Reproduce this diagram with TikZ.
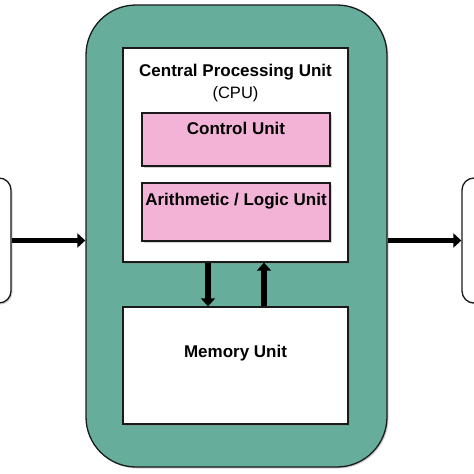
\documentclass[tikz,border=0pt]{standalone}
\usepackage{fontspec}
\setmainfont{Liberation Sans}
\usetikzlibrary{arrows.meta,shadows}
\definecolor{tealfill}{HTML}{66AD9C}
\definecolor{pinkfill}{HTML}{F2B3D6}
\definecolor{edge}{HTML}{1A1A1A}
\tikzset{
  box/.style={draw=edge, line width=1.3pt, inner sep=0pt,
    drop shadow={shadow xshift=1.5pt, shadow yshift=-1.5pt, opacity=0.35}},
  outerbox/.style={box, fill=tealfill, rounded corners=50pt},
  whitebox/.style={box, fill=white},
  pinkbox/.style={box, fill=pinkfill},
  sidebox/.style={box, fill=white, rounded corners=12pt},
  lbl/.style={font=\fontsize{17}{20}\selectfont\bfseries, inner sep=0pt},
  sublbl/.style={font=\fontsize{16.5}{20}\selectfont, inner sep=0pt},
  bigarrow/.style={line width=5.5pt, -{Triangle[length=8pt,width=14pt]}, draw=black},
}
\begin{document}
\begin{tikzpicture}[x=1pt,y=-1pt]
\useasboundingbox (0,0) rectangle (474,474);
\fill[white] (0,0) rectangle (474,474);
\node[outerbox, minimum width=301pt, minimum height=462pt] (sys) at (236.5,236) {};
\node[whitebox, minimum width=225pt, minimum height=214pt] (cpu) at (235.5,155) {};
\node[lbl] (cputitle) at (235.5,72) {Central Processing Unit};
\node[sublbl] (cpuabbr) at (235.5,94) {(CPU)};
\node[pinkbox, minimum width=188pt, minimum height=53pt] (cu) at (236,139.5) {};
\node[lbl] (cutext) at (236,128) {Control Unit};
\node[pinkbox, minimum width=188pt, minimum height=58pt] (alu) at (236,212) {};
\node[lbl] (alutext) at (236,201) {Arithmetic / Logic Unit};
\node[whitebox, minimum width=225pt, minimum height=117pt] (mem) at (235.5,365.5) {};
\node[lbl] (memtext) at (235.5,353) {Memory Unit};
\node[sidebox, minimum width=72pt, minimum height=125pt] (inp) at (-25,240.5) {};
\node[sidebox, minimum width=72pt, minimum height=125pt] (outp) at (498,240.5) {};
\draw[bigarrow] (inp.east) -- (inp.east -| sys.west);
\draw[bigarrow] (sys.east |- outp.west) -- (outp.west);
\draw[bigarrow] ([xshift=-27.5pt]cpu.south) -- ([xshift=-27.5pt]mem.north);
\draw[bigarrow] ([xshift=28.5pt]mem.north) -- ([xshift=28.5pt]cpu.south);
\end{tikzpicture}
\end{document}
